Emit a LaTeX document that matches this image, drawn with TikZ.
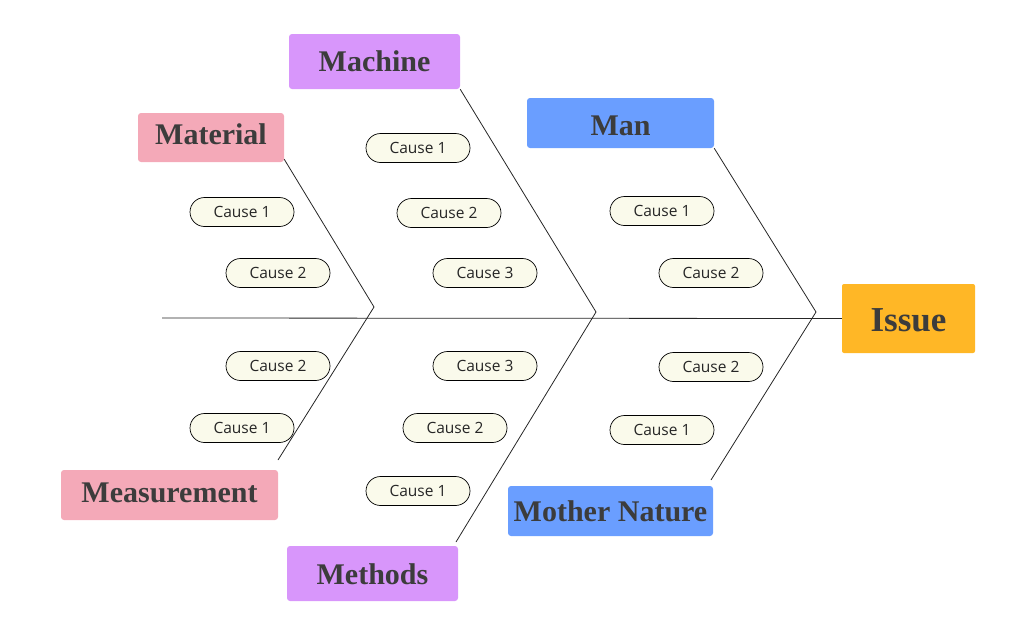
\documentclass[tikz,border=0pt]{standalone}
\usepackage{fontspec}
\setmainfont{Liberation Serif}
\newfontfamily\causefont{Open Sans}
\definecolor{violetbox}{HTML}{D896FB}
\definecolor{pinkbox}{HTML}{F4A9B8}
\definecolor{bluebox}{HTML}{6A9EFF}
\definecolor{issuebox}{HTML}{FFB726}
\definecolor{pillfill}{HTML}{FAFAEB}
\definecolor{headtext}{HTML}{3C3C3C}
\newcommand{\shifttxt}[2]{\raisebox{#1}[\height][\depth]{#2}}
\begin{document}
\begin{tikzpicture}[x=1pt,y=-1pt,
  head/.style={rounded corners=3pt, inner sep=0pt, text=headtext,
    font=\fontsize{30}{30}\selectfont\bfseries},
  pill/.style={draw=black, line width=0.7pt, fill=pillfill, rounded corners=14.5pt,
    minimum width=104pt, minimum height=29pt, inner sep=0pt,
    font=\causefont\fontsize{15.5}{15.5}\selectfont, text=black!85},
  bone/.style={line width=0.8pt, draw=black!85}]
\useasboundingbox (0,0) rectangle (1024,640);
% header boxes
\node[head, fill=violetbox, minimum width=171pt, minimum height=55pt] (machine) at (374.5,61.5) {Machine};
\node[head, fill=pinkbox, minimum width=146pt, minimum height=49pt] (material) at (211,137.5) {\shifttxt{3pt}{Material}};
\node[head, fill=bluebox, minimum width=187pt, minimum height=50pt] (man) at (620.5,123) {\shifttxt{-2.5pt}{Man}};
\node[head, fill=issuebox, minimum width=133pt, minimum height=69pt, rounded corners=2pt,
  font=\fontsize{35}{35}\selectfont\bfseries] (issue) at (908.5,318.5) {\shifttxt{-2pt}{Issue}};
\node[head, fill=pinkbox, minimum width=217pt, minimum height=50pt] (meas) at (169.5,495) {\shifttxt{2pt}{Measurement}};
\node[head, fill=bluebox, minimum width=205pt, minimum height=50pt] (mother) at (610.5,511) {Mother Nature};
\node[head, fill=violetbox, minimum width=171pt, minimum height=55pt] (methods) at (372.5,573.5) {\shifttxt{-1pt}{Methods}};
% spine
\coordinate (tail) at (162,318);
\draw[bone] (tail) -- (issue.west);
% vertices
\coordinate (v1) at (374,307);
\coordinate (v2) at (596,312);
\coordinate (v3) at (816,312);
\coordinate (e1) at (278,460);
\coordinate (e2) at (456,542);
\coordinate (e3) at (711,480);
\draw[bone] (material.south east) ++(0,-3) -- (v1) -- (e1);
\draw[bone] (machine.south east) -- (v2) -- (e2);
\draw[bone] (man.south east) -- (v3) -- (e3);
% causes
\node[pill] (ma1) at (242,212) {Cause 1};
\node[pill] (ma2) at (278,273) {Cause 2};
\node[pill] (mc1) at (418,148) {Cause 1};
\node[pill] (mc2) at (449,213) {Cause 2};
\node[pill] (mc3) at (485,273) {Cause 3};
\node[pill] (mn1) at (662,211) {Cause 1};
\node[pill] (mn2) at (711,273) {Cause 2};
\node[pill] (me2) at (278,366) {Cause 2};
\node[pill] (me1) at (242,428) {Cause 1};
\node[pill] (mt3) at (485,366) {Cause 3};
\node[pill] (mt2) at (455,428) {Cause 2};
\node[pill] (mt1) at (418,491) {Cause 1};
\node[pill] (mo2) at (711,367) {Cause 2};
\node[pill] (mo1) at (662,430) {Cause 1};
\end{tikzpicture}
\end{document}
